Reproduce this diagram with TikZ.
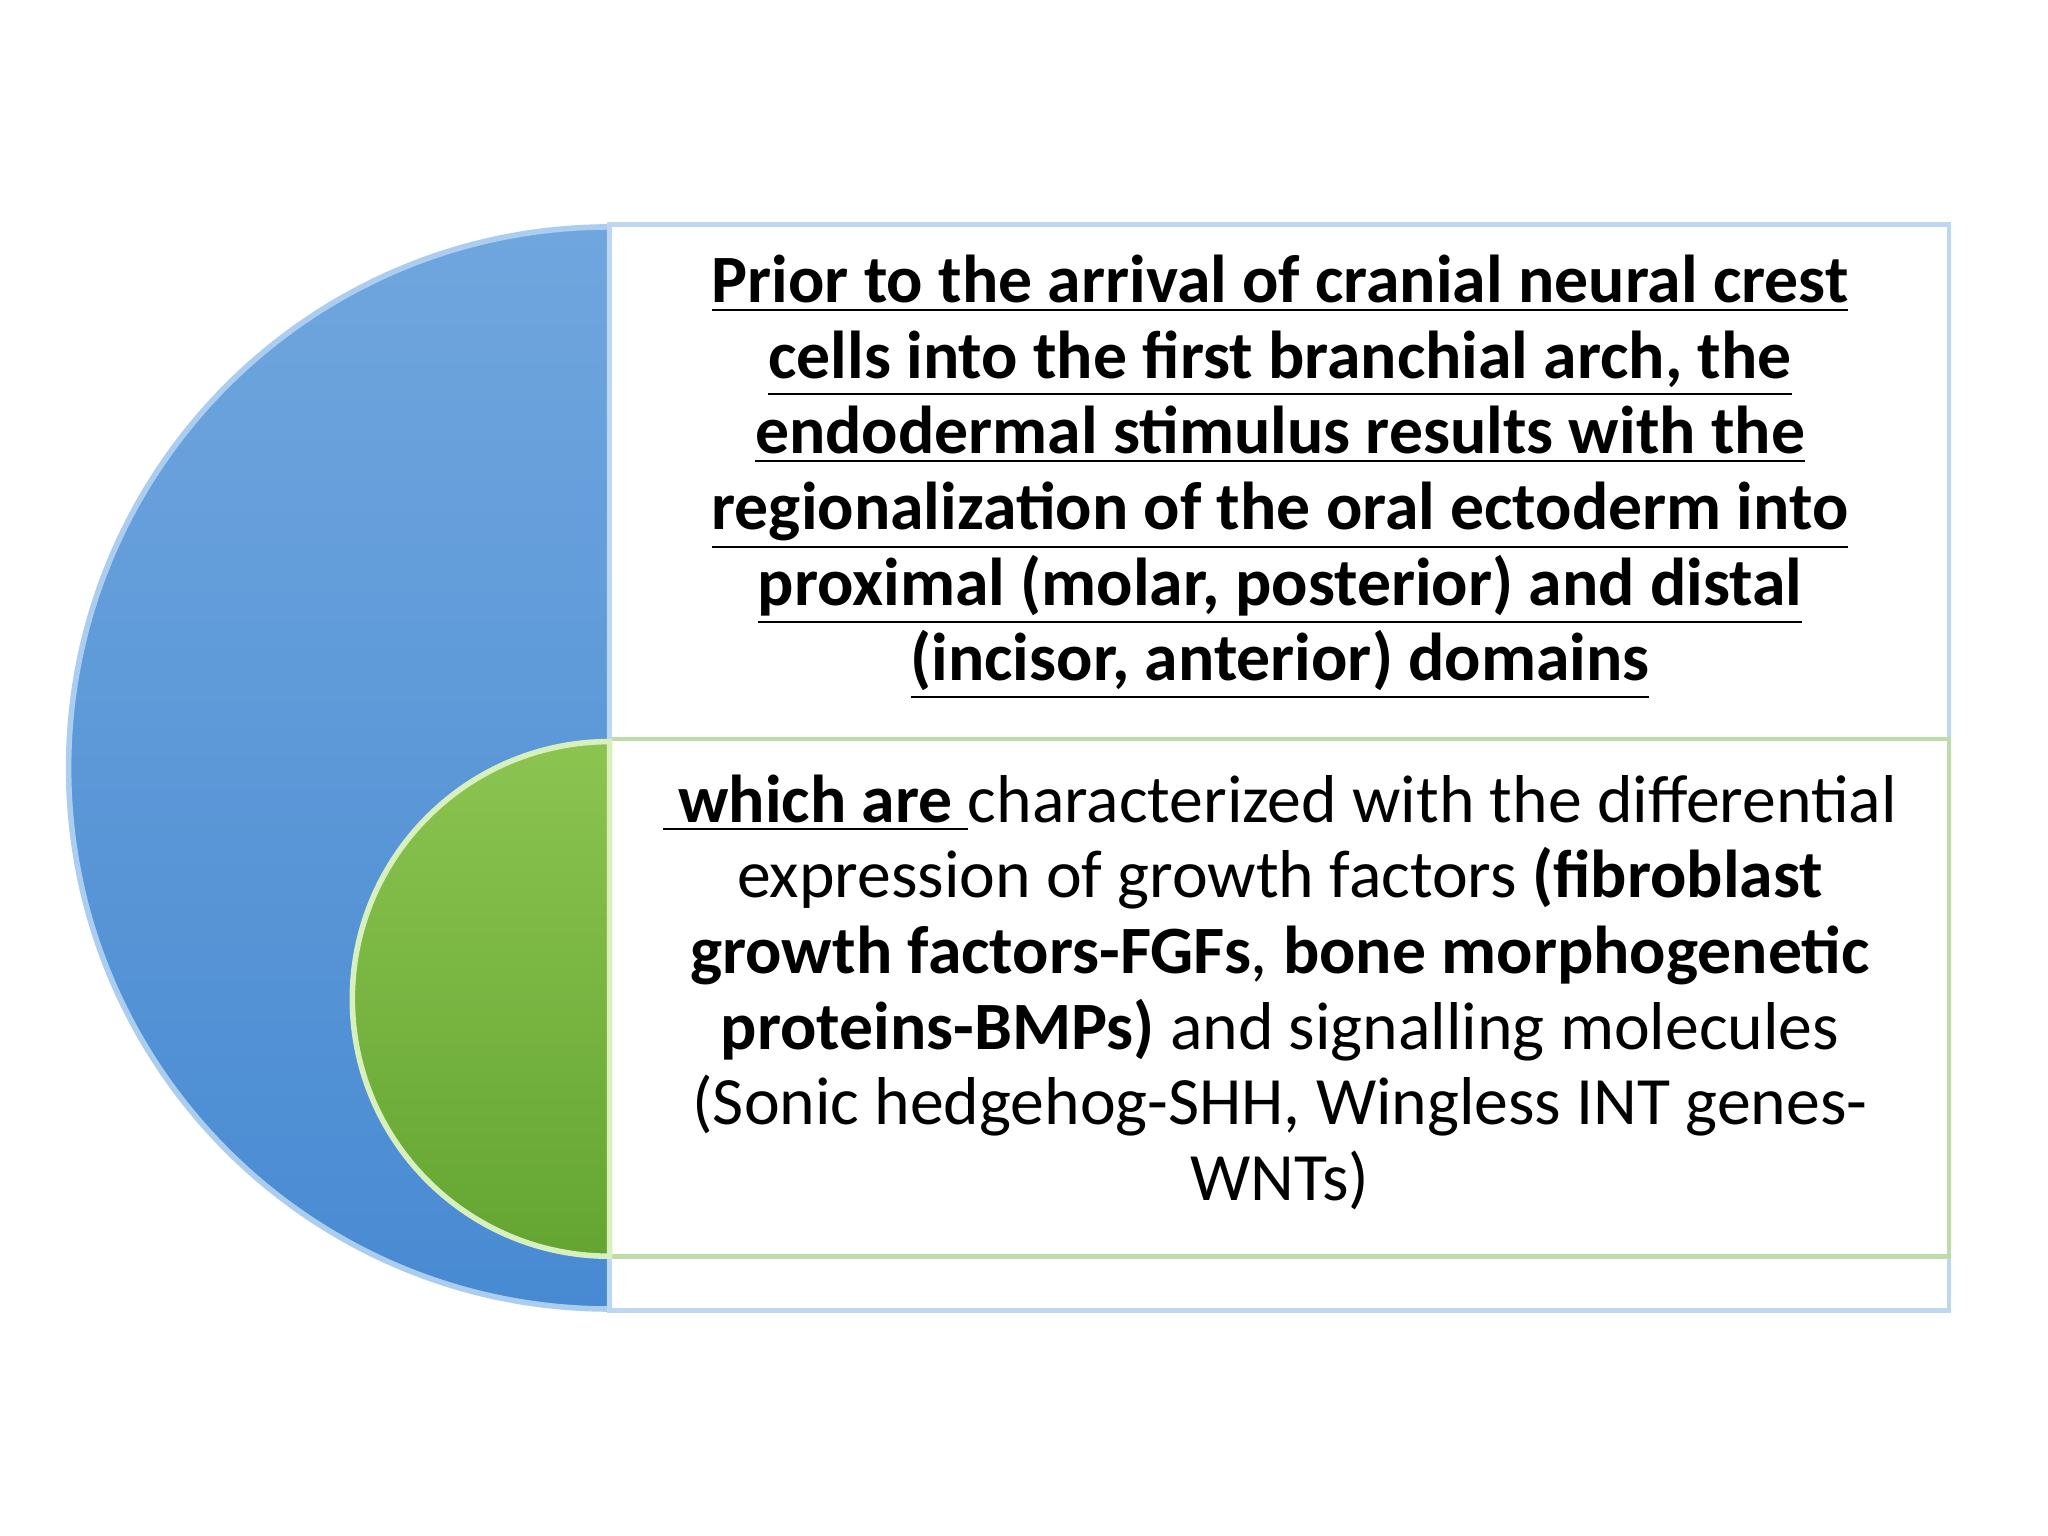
\documentclass[tikz,border=0pt]{standalone}
\usepackage{fontspec}
\setmainfont{Carlito}
\begin{document}
\begin{tikzpicture}
\useasboundingbox (0,0) rectangle (15.52,11.64);
\fill[white] (0,0) rectangle (15.52,11.64);
\tikzset{txt/.style={align=center,font=\fontsize{14.6pt}{16.3pt}\selectfont,text=black}}
% blue half disc
\shade[top color={rgb,255:red,112;green,166;blue,222},bottom color={rgb,255:red,72;green,138;blue,210},draw={rgb,255:red,170;green,205;blue,240},line width=1.2pt]
 (4.62,9.92) arc (90:270:4.10) -- cycle;
% boxes
\draw[draw={rgb,255:red,190;green,215;blue,240},line width=1pt,fill=white] (4.62,1.71) rectangle (14.77,9.94);
\draw[draw={rgb,255:red,190;green,220;blue,170},line width=1pt] (4.62,2.12) rectangle (14.77,6.04);
\draw[draw={rgb,255:red,190;green,215;blue,240},line width=1pt] (4.62,6.04) -- (4.62,9.94);
% green half disc
\shade[top color={rgb,255:red,140;green,196;blue,80},bottom color={rgb,255:red,100;green,165;blue,50},draw={rgb,255:red,215;green,240;blue,190},line width=1.2pt]
 (4.62,6.02) arc (90:270:1.95) -- cycle;
\node[txt,font=\fontsize{14.6pt}{16.3pt}\selectfont\bfseries] (top) at (9.70,8.02) {%
\underline{Prior to the arrival of cranial neural crest}\\
\underline{cells into the first branchial arch, the}\\
\underline{endodermal stimulus results with the}\\
\underline{regionalization of the oral ectoderm into}\\
\underline{proximal (molar, posterior) and distal}\\
\underline{(incisor, anterior) domains}};
\node[txt] (bot) at (9.70,4.12) {\underline{\textbf{\ which are\ }}characterized with the differential\\
expression of growth factors \textbf{(fibroblast}\\
\textbf{growth factors-FGFs}, \textbf{bone morphogenetic}\\
\textbf{proteins-BMPs)} and signalling molecules\\
(Sonic hedgehog-SHH, Wingless INT genes-\\
WNTs)};
\end{tikzpicture}
\end{document}
